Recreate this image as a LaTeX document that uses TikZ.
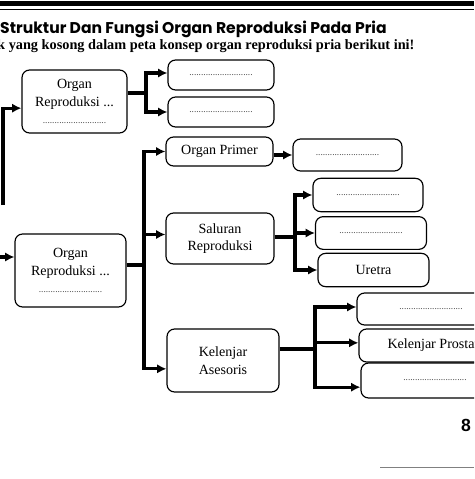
\documentclass[tikz,border=0pt]{standalone}
\usepackage{fontspec}
\setmainfont{Liberation Serif}
\newfontfamily\judulfont{Poppins}
\newfontfamily\angkafont{Liberation Sans}
\usetikzlibrary{calc, arrows.meta, positioning}
\tikzset{>={Latex[length=8pt,width=8pt]}}
\tikzset{kotak/.style={draw, line width=1pt, rounded corners=6.5pt, align=center, font=\fontsize{12}{15}\selectfont},
  garis/.style={line width=2.6pt},
  panah/.style={line width=2.6pt, ->}}
\newcommand{\isian}{{\footnotesize\color{black!75}...........................}}
\begin{document}
\begin{tikzpicture}[x=0.03cm, y=-0.03cm]
\useasboundingbox (0,0) rectangle (474,479);
\clip (0,0) rectangle (474,479);
\fill (0,1.5) rectangle (474,6);
\draw[line width=0.8pt] (0,9.5) -- (474,9.5);
\node[anchor=base west, inner sep=0pt] (judul) at (0,34) {\judulfont\bfseries\fontsize{13.3}{14}\selectfont Struktur Dan Fungsi Organ Reproduksi Pada Pria};
\node[anchor=base west, inner sep=0pt] (petunjuk) at (-3,49.5) {\fontsize{12.2}{13}\selectfont\bfseries k yang kosong dalam peta konsep organ reproduksi pria berikut ini!};

\node[kotak, minimum width=3.15cm, minimum height=1.89cm] (orgA) at (74.5,101.5) {Organ\\Reproduksi ...\\\isian};
\node[kotak, minimum width=3.18cm, minimum height=0.9cm] (isiA) at (221,75) {\isian};
\node[kotak, minimum width=3.18cm, minimum height=0.9cm] (isiB) at (221,112) {\isian};
\node[kotak, minimum width=3.21cm, minimum height=0.87cm] (primer) at (219.5,151.5) {Organ Primer};
\node[kotak, minimum width=3.27cm, minimum height=0.96cm] (isiC) at (347.5,155) {\isian};
\node[kotak, minimum width=3.3cm, minimum height=1cm] (isiD) at (368,195) {\isian};
\node[kotak, minimum width=3.33cm, minimum height=0.98cm] (isiE) at (371,233) {\isian};
\node[kotak, minimum width=3.33cm, minimum height=1cm] (uretra) at (373.5,270) {Uretra};
\node[kotak, minimum width=3.24cm, minimum height=1.53cm] (saluran) at (220,238.5) {Saluran\\Reproduksi};
\node[kotak, minimum width=3.33cm, minimum height=2.19cm] (orgB) at (70.5,270.5) {Organ\\Reproduksi ...\\\isian};
\node[kotak, minimum width=3.36cm, minimum height=1.89cm] (kelenjar) at (223,360.5) {Kelenjar\\Asesoris};
\node[kotak, minimum width=4.44cm, minimum height=0.96cm] (isiF) at (431,309) {\isian};
\node[kotak, minimum width=4.44cm, minimum height=0.99cm] (prostat) at (433,345.5) {Kelenjar Prostat};
\node[kotak, minimum width=4.44cm, minimum height=1.05cm] (isiG) at (435,380.5) {\isian};
\node[anchor=base, inner sep=0pt] (hal) at (466,431) {\angkafont\bfseries\fontsize{15}{16}\selectfont 8};
\draw[gray, line width=0.6pt] (380,467) -- (474,467);

\coordinate (kiriA) at (3,205);
\coordinate (kiriB) at (0,257);
\draw[panah] (kiriA) |- ([yshift=-0.2cm]orgA.west);
\draw[panah] (kiriB) -- (kiriB -| orgB.west);

\coordinate (cA) at (146,93);
\draw[garis] (orgA.east |- cA) -- (cA);
\draw[panah] ([yshift=-1.3pt]cA) |- ([yshift=0.06cm]isiA.west);
\draw[panah] ([yshift=1.3pt]cA) |- (isiB);

\coordinate (cB) at (144,265);
\draw[garis] (orgB.east |- cB) -- (cB);
\draw[panah] (cB) |- (primer);
\draw[panah] (cB) |- ([yshift=0.12cm]saluran.west);
\draw[panah] (cB) |- ([yshift=-0.25cm]kelenjar.west);
\draw[panah] (primer.east |- isiC) -- (isiC);

\coordinate (cS) at (295,237);
\draw[garis] (saluran.east |- cS) -- (cS);
\draw[panah] (cS) |- (isiD);
\draw[panah] (cS) |- (isiE);
\draw[panah] (cS) |- (uretra);

\coordinate (cK) at (315,349);
\draw[garis] (kelenjar.east |- cK) -- (cK);
\draw[panah] (cK) |- ([yshift=0.06cm]isiF.west);
\draw[panah] (cK) |- ([yshift=0.08cm]prostat.west);
\draw[panah] (cK) |- ([yshift=-0.2cm]isiG.west);
\end{tikzpicture}
\end{document}
